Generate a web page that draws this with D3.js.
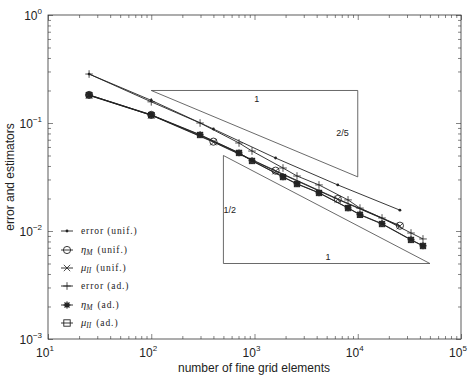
<!DOCTYPE html>
<html>
<head>
<meta charset="utf-8">
<script src="https://cdn.jsdelivr.net/npm/d3@7/dist/d3.min.js"></script>
<style>
  body { margin: 0; background: #fff; }
  svg { display: block; }
</style>
</head>
<body>
<svg width="474" height="377"></svg>
<script>
// uniform refinement
var nUnif = [25, 100, 400, 1600, 6400, 25600];
var errUnif = [0.284, 0.162, 0.088, 0.0474, 0.0267, 0.0156];
var etaUnif = [0.182, 0.119, 0.0672, 0.0362, 0.0198, 0.0112];
var muUnif = [0.180, 0.118, 0.0665, 0.0358, 0.0196, 0.0111];

// adaptive refinement
var nAd = [25, 100, 297, 708, 946, 1888, 2580, 4214, 8050, 10510, 17180, 32800, 42850];
var errAd = [0.284, 0.157, 0.100, 0.0653, 0.0550, 0.0383, 0.0323, 0.0267, 0.0194, 0.0163, 0.0132, 0.00958, 0.00844];
var etaAd = [0.182, 0.119, 0.0780, 0.0530, 0.0448, 0.0318, 0.0274, 0.0226, 0.0164, 0.0142, 0.0117, 0.00832, 0.00730];
var muAd = [0.181, 0.118, 0.0774, 0.0528, 0.0445, 0.0316, 0.0272, 0.0225, 0.0163, 0.0141, 0.0116, 0.00826, 0.00726];

// slope triangles
var tri1 = [[100, 0.2], [1e4, 0.2], [1e4, 0.0317]];
var tri2 = [[500, 0.05], [500, 0.005], [5e4, 0.005]];
var triLabels = [
  { x: 1050, y: 0.167, t: '1' },
  { x: 7100, y: 0.081, t: '2/5' },
  { x: 575, y: 0.0157, t: '1/2' },
  { x: 5150, y: 0.0058, t: '1' }
];

var xDecades = [1, 2, 3, 4, 5];
var yDecades = [0, -1, -2, -3];

var svg = d3.select('svg');
var pLeft = 48, pRight = 461, pTop = 15, pBottom = 339;

var x = d3.scaleLog().domain([10, 1e5]).range([pLeft, pRight]);
var y = d3.scaleLog().domain([1e-3, 1]).range([pBottom, pTop]);

var frame = '#333';

function minors(lo, hi) {
  var out = [];
  for (var e = lo; e < hi; e++) {
    for (var k = 2; k <= 9; k++) out.push(k * Math.pow(10, e));
  }
  return out;
}
var xMajor = xDecades.map(function (d) { return Math.pow(10, d); });
var yMajor = yDecades.map(function (d) { return Math.pow(10, d); });

/* ----------- axes / ticks ----------- */
function axisGroup(axis, tx, ty) {
  var g = svg.append('g').attr('transform', 'translate(' + tx + ',' + ty + ')').call(axis);
  g.select('.domain').remove();
  g.selectAll('line').attr('stroke', frame).attr('stroke-width', 0.6);
}
axisGroup(d3.axisBottom(x).tickValues(xMajor).tickSize(-5).tickFormat(''), 0, pBottom);
axisGroup(d3.axisBottom(x).tickValues(minors(1, 5)).tickSize(-3).tickFormat(''), 0, pBottom);
axisGroup(d3.axisTop(x).tickValues(xMajor).tickSize(-5).tickFormat(''), 0, pTop);
axisGroup(d3.axisTop(x).tickValues(minors(1, 5)).tickSize(-3).tickFormat(''), 0, pTop);
axisGroup(d3.axisLeft(y).tickValues(yMajor).tickSize(-5).tickFormat(''), pLeft, 0);
axisGroup(d3.axisLeft(y).tickValues(minors(-3, 0)).tickSize(-3).tickFormat(''), pLeft, 0);
axisGroup(d3.axisRight(y).tickValues(yMajor).tickSize(-5).tickFormat(''), pRight, 0);
axisGroup(d3.axisRight(y).tickValues(minors(-3, 0)).tickSize(-3).tickFormat(''), pRight, 0);

svg.append('rect')
  .attr('x', pLeft).attr('y', pTop)
  .attr('width', pRight - pLeft).attr('height', pBottom - pTop)
  .attr('fill', 'none').attr('stroke', frame).attr('stroke-width', 0.8);

// tick labels 10^k
function powLabel(sel, exp) {
  sel.append('tspan').text('10');
  sel.append('tspan').attr('dy', -6).attr('font-size', 8).text(exp);
}
xDecades.forEach(function (e) {
  var t = svg.append('text')
    .attr('x', x(Math.pow(10, e)) - 3).attr('y', 357)
    .attr('text-anchor', 'middle')
    .attr('font-family', 'Liberation Sans, Arial, sans-serif')
    .attr('font-size', 12).attr('fill', '#222');
  powLabel(t, e);
});
yDecades.forEach(function (e) {
  var t = svg.append('text')
    .attr('x', 42).attr('y', y(Math.pow(10, e)) + 5)
    .attr('text-anchor', 'end')
    .attr('font-family', 'Liberation Sans, Arial, sans-serif')
    .attr('font-size', 12).attr('fill', '#222');
  powLabel(t, e === 0 ? '0' : '\u2212' + (-e));
});

svg.append('text')
  .attr('x', 254).attr('y', 372)
  .attr('text-anchor', 'middle')
  .attr('font-family', 'Liberation Sans, Arial, sans-serif')
  .attr('font-size', 12).attr('fill', '#222')
  .text('number of fine grid elements');

svg.append('text')
  .attr('transform', 'translate(14,177) rotate(-90)')
  .attr('text-anchor', 'middle')
  .attr('font-family', 'Liberation Sans, Arial, sans-serif')
  .attr('font-size', 12).attr('fill', '#222')
  .text('error and estimators');

/* ----------- slope triangles ----------- */
var tri = d3.line().x(function (d) { return x(d[0]); }).y(function (d) { return y(d[1]); });
[tri1, tri2].forEach(function (t) {
  svg.append('path')
    .attr('d', tri(t) + 'Z')
    .attr('fill', 'none').attr('stroke', '#444').attr('stroke-width', 0.8);
});
svg.selectAll('text.tri').data(triLabels).enter().append('text')
  .attr('class', 'tri')
  .attr('x', function (d) { return x(d.x); })
  .attr('y', function (d) { return y(d.y) + 3; })
  .attr('text-anchor', 'middle')
  .attr('font-family', 'Liberation Sans, Arial, sans-serif')
  .attr('font-size', 9).attr('fill', '#222')
  .text(function (d) { return d.t; });

/* ----------- series ----------- */
function marker(g, type, cx, cy, legend) {
  var s = 3.2, st = '#222';
  if (type === 'dot') {
    g.append('circle').attr('cx', cx).attr('cy', cy).attr('r', 1.4).attr('fill', st);
  } else if (type === 'circle') {
    g.append('circle').attr('cx', cx).attr('cy', cy).attr('r', 3.6)
      .attr('fill', 'none').attr('stroke', st).attr('stroke-width', 0.9);
  } else if (type === 'x') {
    g.append('path').attr('d', 'M' + (cx - s) + ',' + (cy - s) + 'L' + (cx + s) + ',' + (cy + s) +
      'M' + (cx - s) + ',' + (cy + s) + 'L' + (cx + s) + ',' + (cy - s))
      .attr('stroke', st).attr('stroke-width', 0.8);
  } else if (type === 'plus') {
    g.append('path').attr('d', 'M' + (cx - 3.8) + ',' + cy + 'H' + (cx + 3.8) +
      'M' + cx + ',' + (cy - 3.8) + 'V' + (cy + 3.8))
      .attr('stroke', st).attr('stroke-width', 0.8);
  } else if (type === 'star') {
    g.append('path').attr('d', 'M' + (cx - 3.4) + ',' + cy + 'H' + (cx + 3.4) +
      'M' + cx + ',' + (cy - 3.4) + 'V' + (cy + 3.4) +
      'M' + (cx - 2.5) + ',' + (cy - 2.5) + 'L' + (cx + 2.5) + ',' + (cy + 2.5) +
      'M' + (cx - 2.5) + ',' + (cy + 2.5) + 'L' + (cx + 2.5) + ',' + (cy - 2.5))
      .attr('stroke', st).attr('stroke-width', 1.3);
  } else if (type === 'square') {
    var h = legend ? 3.2 : 2.7;
    g.append('rect').attr('x', cx - h).attr('y', cy - h).attr('width', 2 * h).attr('height', 2 * h)
      .attr('fill', legend ? 'none' : '#666').attr('stroke', st).attr('stroke-width', 0.9);
  }
}

var series = [
  { name: 'error', sub: '(unif.)', n: nUnif, v: errUnif, m: 'dot' },
  { name: 'eta', sub: '(unif.)', n: nUnif, v: etaUnif, m: 'circle' },
  { name: 'mu', sub: '(unif.)', n: nUnif, v: muUnif, m: 'x' },
  { name: 'error', sub: '(ad.)', n: nAd, v: errAd, m: 'plus' },
  { name: 'eta', sub: '(ad.)', n: nAd, v: etaAd, m: 'star' },
  { name: 'mu', sub: '(ad.)', n: nAd, v: muAd, m: 'square' }
];

// adaptive runs underneath, uniform runs on top
var drawOrder = [3, 5, 4, 0, 1, 2];
var line = d3.line().x(function (d) { return x(d[0]); }).y(function (d) { return y(d[1]); });
drawOrder.forEach(function (k) {
  var s = series[k];
  var pts = s.n.map(function (n, i) { return [n, s.v[i]]; });
  var g = svg.append('g');
  g.append('path').attr('d', line(pts))
    .attr('fill', 'none').attr('stroke', '#222').attr('stroke-width', 0.9);
  pts.forEach(function (p) { marker(g, s.m, x(p[0]), y(p[1]), false); });
});

/* ----------- legend ----------- */
var legY = [231, 250, 268, 286, 305, 323];
var serif = 'Liberation Serif, DejaVu Serif, serif';
series.forEach(function (s, i) {
  var g = svg.append('g');
  var ly = legY[i];
  g.append('line').attr('x1', 61).attr('x2', 73).attr('y1', ly).attr('y2', ly)
    .attr('stroke', '#222').attr('stroke-width', 0.9);
  marker(g, s.m, 67, ly, true);
  var t = g.append('text').attr('x', 81).attr('y', ly + 3)
    .attr('font-family', serif).attr('font-size', 9.5).attr('fill', '#222');
  if (s.name === 'error') {
    t.append('tspan').text('error ' + s.sub).attr('letter-spacing', 0.9);
  } else if (s.name === 'eta') {
    t.append('tspan').attr('font-style', 'italic').attr('font-size', 10.5).text('\u03b7');
    t.append('tspan').attr('font-style', 'italic').attr('font-size', 7.5).attr('dy', 2).text('M');
    t.append('tspan').attr('dy', -2).attr('dx', 5).attr('letter-spacing', 0.9).text(s.sub);
  } else {
    t.append('tspan').attr('font-style', 'italic').attr('font-size', 10.5).text('\u03bc');
    t.append('tspan').attr('font-style', 'italic').attr('font-size', 7.5).attr('dy', 2).text('II');
    t.append('tspan').attr('dy', -2).attr('dx', 5).attr('letter-spacing', 0.9).text(s.sub);
  }
});
</script>
</body>
</html>
